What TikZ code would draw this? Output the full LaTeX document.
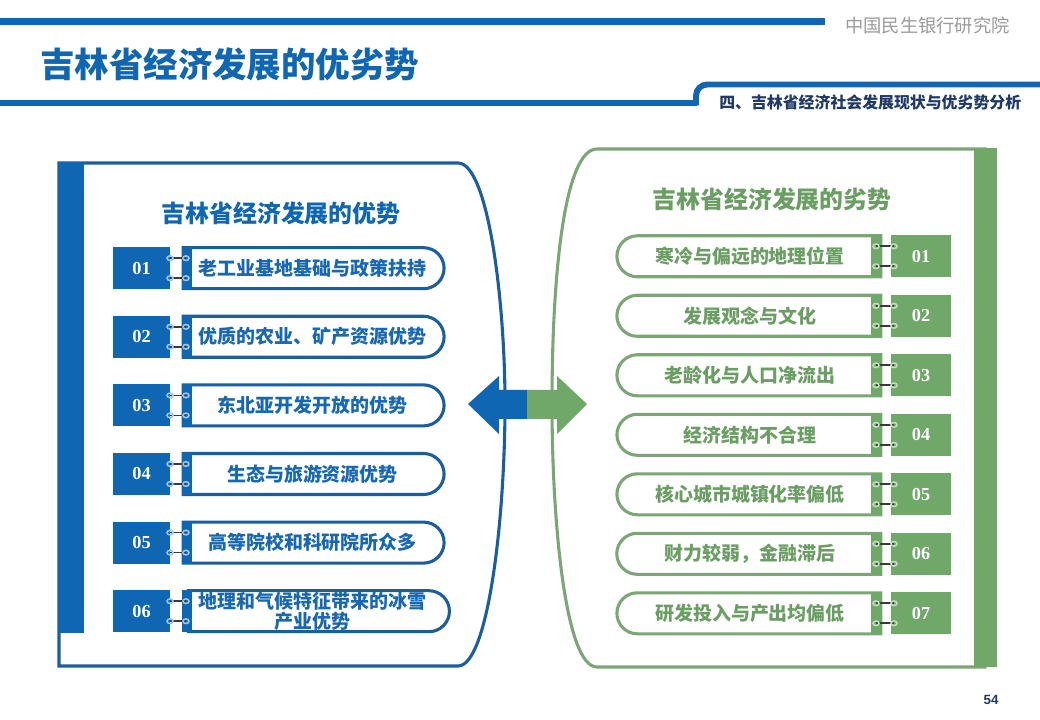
\documentclass[tikz,border=0pt]{standalone}
\usepackage{fontspec}
\usetikzlibrary{shapes.misc}
\newfontfamily\cjk{Noto Sans CJK SC}
\newfontfamily\numfont{Liberation Serif}
\newfontfamily\pgnfont{Liberation Sans}
\definecolor{msblue}{HTML}{0F66B2}
\definecolor{msnavy}{HTML}{1B5E9F}
\definecolor{mstext}{HTML}{1767B2}
\definecolor{msgreen}{HTML}{70A86A}
\definecolor{msline}{HTML}{7DA676}
\definecolor{msgtext}{HTML}{6A9E63}
\definecolor{msgrey}{HTML}{9B9B9B}
\definecolor{msdark}{HTML}{1F3A66}
\definecolor{ringblue}{HTML}{9CC3E8}
\definecolor{ringgreen}{HTML}{C3DCBE}
\definecolor{ringdark}{HTML}{3A3A3A}

\tikzset{
  numtxt/.style={text=white, inner sep=0, font=\numfont\bfseries\fontsize{13}{13}\selectfont},
  advbox/.style={rounded rectangle, rounded rectangle west arc=none, draw=msnavy, line width=2.2,
    fill=white, minimum width=261*0.025cm, minimum height=41*0.025cm, inner sep=0,
    text=mstext, align=center, font=\cjk\bfseries\fontsize{13.5}{14}\selectfont},
  disbox/.style={rounded rectangle, rounded rectangle east arc=none, draw=msline, line width=2.2,
    fill=white, minimum width=264*0.025cm, minimum height=41*0.025cm, inner sep=0,
    text=msgtext, font=\cjk\bfseries\fontsize{13.5}{14}\selectfont},
}

\begin{document}
\begin{tikzpicture}[x=0.025cm, y=-0.025cm]

  % === Canvas, pixel units (y grows downwards) ===
  \fill[white] (0,0) rectangle (1040,720);
  \useasboundingbox (0,0) rectangle (1040,720);

  % === Header ===
  \fill[msblue] (0,18) rectangle (825,25);
  \node[text=msgrey, inner sep=0, anchor=east, font=\cjk\fontsize{13}{13}\selectfont]
    (inst) at (1010,26) {中国民生银行研究院};
  \node[text=msblue, inner sep=0, anchor=west, font=\cjk\bfseries\fontsize{24.5}{24.5}\selectfont]
    (title) at (40,64) {吉林省经济发展的优劣势};

  % lower bar with a step up on the right
  \draw[msblue, line width=4.2] (0,103) -- (697,103);
  \draw[msblue, line width=4.2, rounded corners=8] (696,105.5) -- (696,84.5) -- (1040,84.5);
  \node[text=msdark, inner sep=0, anchor=west, font=\cjk\bfseries\fontsize{11.3}{11.3}\selectfont]
    (section) at (719,102) {四、吉林省经济社会发展现状与优劣势分析};

  % === Left panel: advantages ===
  \draw[msnavy, line width=2.2] (59,163) -- (458,163)
    .. controls (488,163) and (505,300) .. (505,404)
    .. controls (505,520) and (488,666) .. (458,666) -- (59,666) -- cycle;
  \fill[msblue] (59,162) rectangle (84,633);

  % === Right panel: disadvantages ===
  \draw[msline, line width=2.2] (597,149)
    .. controls (565,149) and (552,270) .. (552,404)
    .. controls (552,520) and (565,667) .. (597,667) -- (985,667) -- (985,149) -- cycle;
  \fill[msgreen] (974,148) rectangle (997,667);

  % === Double arrow in the middle ===
  \fill[msblue] (468,404) -- (499,376) -- (499,390) -- (527,390)
    -- (527,419) -- (499,419) -- (499,434) -- cycle;
  \fill[msgreen] (587,404) -- (557,376) -- (557,390) -- (527,390)
    -- (527,419) -- (557,419) -- (557,434) -- cycle;

  % === Panel titles ===
  \node[text=msblue, font=\cjk\bfseries\fontsize{17}{17}\selectfont] (advtitle) at (281,213)
    {吉林省经济发展的优势};
  \node[text=msgtext, font=\cjk\bfseries\fontsize{17}{17}\selectfont] (distitle) at (772,199)
    {吉林省经济发展的劣势};

  % === Advantage rows ===
  \def\lrowgap{68.6}
  \foreach \txt [count=\i] in {老工业基地基础与政策扶持, 优质的农业、矿产资源优势,
      东北亚开发开放的优势, 生态与旅游资源优势, 高等院校和科研院所众多,
      {地理和气候特征带来的冰雪\\产业优势}} {
    \pgfmathsetmacro{\cy}{268.2 + (\i-1)*\lrowgap}
    % number tab
    \fill[msblue] (113,\cy-21) rectangle (170,\cy+21);
    \node[numtxt] (anum\i) at (141.5,\cy) {0\i};
    % label box with its blue spine
    \node[advbox] (alab\i) at (312.5,\cy) {\txt};
    \fill[msblue] (182,\cy-21) rectangle (192,\cy+21);
    % binder rings
    \foreach \ry in {-10,10} {
      \draw[ringdark, line width=1.2] (170,\cy+\ry) -- (186,\cy+\ry);
      \draw[ringblue, line width=1.1] (170,\cy+\ry) ellipse [x radius=3, y radius=2.3];
      \draw[ringblue, line width=1.1] (186,\cy+\ry) ellipse [x radius=3, y radius=2.3];
    }
  }

  % === Disadvantage rows ===
  \def\rrowgap{59.5}
  \foreach \txt [count=\i] in {寒冷与偏远的地理位置, 发展观念与文化, 老龄化与人口净流出,
      经济结构不合理, 核心城市城镇化率偏低, 财力较弱，金融滞后, 研发投入与产出均偏低} {
    \pgfmathsetmacro{\cy}{256.3 + (\i-1)*\rrowgap}
    % label box with its green spine
    \node[disbox] (dlab\i) at (750,\cy) {\txt};
    \fill[msgreen] (871,\cy-21) rectangle (882,\cy+21);
    % number tab
    \fill[msgreen] (891,\cy-21) rectangle (951,\cy+21);
    \node[numtxt] (dnum\i) at (921,\cy) {0\i};
    % binder rings
    \foreach \ry in {-10,10} {
      \draw[ringdark, line width=1.2] (876,\cy+\ry) -- (894,\cy+\ry);
      \draw[ringgreen, line width=1.1] (876,\cy+\ry) ellipse [x radius=3, y radius=2.3];
      \draw[ringgreen, line width=1.1] (894,\cy+\ry) ellipse [x radius=3, y radius=2.3];
    }
  }

  % === Page number ===
  \node[text=msdark, font=\pgnfont\bfseries\fontsize{9.5}{9.5}\selectfont] (pgnum) at (991,700) {54};

\end{tikzpicture}
\end{document}
